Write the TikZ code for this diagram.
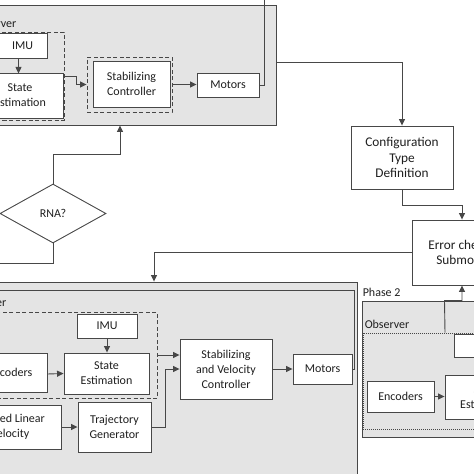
\documentclass[tikz,border=0pt]{standalone}
\usepackage{fontspec}
\setmainfont{Carlito}
\usetikzlibrary{arrows.meta,shapes.geometric}
\definecolor{lc}{HTML}{474747}
\definecolor{bg}{HTML}{E4E4E4}
\definecolor{tx}{HTML}{1F1F1F}
\tikzset{
 cont/.style={draw=lc, line width=0.9pt, fill=bg, inner sep=0pt},
 blk/.style={draw=lc, line width=0.9pt, fill=white, text=tx, align=center, inner sep=0pt, font=\fontsize{12}{15}\selectfont},
 bigtxt/.style={font=\fontsize{13.3}{15.8}\selectfont},
 dbox/.style={draw=lc, line width=0.9pt, dash pattern=on 4pt off 2.5pt, inner sep=0pt},
 dotbox/.style={draw=lc, line width=0.9pt, dash pattern=on 1pt off 1pt, inner sep=0pt},
 lbl/.style={text=tx, inner sep=0pt, font=\fontsize{12}{15}\selectfont},
 arr/.style={draw=lc, line width=0.9pt, -{Triangle[length=6.5pt,width=6pt]}},
 wire/.style={draw=lc, line width=0.9pt},
}
\begin{document}
\begin{tikzpicture}[x=1pt,y=-1pt]
\useasboundingbox (0,0) rectangle (474,474);
\clip (0,0) rectangle (474,474);
% ---- top container
\node[cont, minimum width=306pt, minimum height=120pt] (p1) at (123,65) {};
\node[dbox, minimum width=94pt, minimum height=88pt] (obs1) at (17,76) {};
\node[lbl, anchor=base west] (obs1l) at ([xshift=2pt,yshift=4.5pt]obs1.north west) {Observer};
\node[blk, minimum width=49pt, minimum height=25pt] (imu1) at (22.5,45.5) {IMU};
\node[blk, minimum width=86pt, minimum height=45pt] (st1) at (20,95.5) {State\\Estimation};
\node[dbox, minimum width=85pt, minimum height=55pt] (stabd) at (129.5,84.5) {};
\node[blk, minimum width=77pt, minimum height=46pt] (stab) at (131.5,84) {Stabilizing\\Controller};
\node[blk, minimum width=62pt, minimum height=24pt] (mot1) at (228,85) {Motors};
% ---- right column
\node[blk, bigtxt, minimum width=102pt, minimum height=63pt] (conf) at (402,157.5) {Configuration\\Type\\Definition};
\node[blk, bigtxt, minimum width=110pt, minimum height=65pt] (err) at (467,252.5) {Error checking\\Submodule};
\node[draw=lc, line width=0.9pt, diamond, aspect=1.8, minimum width=106pt, minimum height=59pt, inner sep=0pt, text=tx, font=\fontsize{12}{15}\selectfont] (rna) at (53,213.5) {RNA?};
% ---- bottom-left container
\node[cont, minimum width=387pt, minimum height=218pt] (p3) at (163.5,391) {};
\node[dbox, minimum width=199pt, minimum height=86pt] (obs2) at (57.5,355) {};
\node[lbl, anchor=base west] (obs2l) at ([xshift=4pt,yshift=5pt]obs2.north west) {Observer};
\node[blk, minimum width=60pt, minimum height=24pt] (imu2) at (107,326) {IMU};
\node[blk, minimum width=85pt, minimum height=41pt] (st2) at (106.5,373.5) {State\\Estimation};
\node[blk, minimum width=74pt, minimum height=39pt] (enc2) at (10,372.5) {Encoders};
\node[blk, minimum width=102pt, minimum height=44pt] (des) at (10,427) {Desired Linear\\Velocity};
\node[blk, minimum width=73pt, minimum height=50pt] (traj) at (114.5,427) {Trajectory\\Generator};
\node[blk, minimum width=92pt, minimum height=60pt] (svc) at (226,369) {Stabilizing\\and Velocity\\Controller};
\node[blk, minimum width=59pt, minimum height=30pt] (mot2) at (322.5,369) {Motors};
% ---- phase 2
\node[cont, minimum width=158pt, minimum height=136pt] (p2) at (441,369) {};
\node[lbl, anchor=base west] (p2l) at ([xshift=1pt,yshift=4pt]p2.north west) {Phase 2};
\node[dotbox, minimum width=157pt, minimum height=96pt] (obs3) at (441.5,381) {};
\node[lbl, anchor=base west] (obs3l) at ([xshift=2pt,yshift=4pt]obs3.north west) {Observer};
\node[blk, minimum width=66pt, minimum height=23pt] (imu3) at (487,345.5) {};
\node[blk, minimum width=67pt, minimum height=31pt] (enc3) at (400.5,396.5) {Encoders};
\node[blk, minimum width=82pt, minimum height=44pt] (st3) at (486,397) {State\\Estimation};
% ---- connectors
\coordinate (up1) at (264,-5);
\coordinate (rnaout) at (-5,263);
\coordinate (lft2) at (-5,290);
\draw[arr] (imu1.south -| st1.north) ++(-1.5,0) -- ++(0,15);
\draw[arr] (obs1.east) -- ++(12,0) |- (stabd.west);
\draw[arr] (stabd.east) -- (stabd.east -| mot1.west);
\draw[wire] (mot1.east) -| (up1);
\draw[arr] ([yshift=3pt]p1.east) -| (conf.north);
\draw[arr] (conf.south) -- ++(0,16) -| ([xshift=-5pt]err.north);
\draw[arr] (err.west) -| ([xshift=-9.5pt]p3.north);
\draw[arr] (rna.north) -- ++(0,-29) -| ([xshift=-3pt]p1.south);
\draw[wire] (rna.south) |- (rnaout);
\draw[arr] (imu2.south) -- (imu2.south |- st2.north);
\draw[arr] (enc2.east) ++(0,1.5) -- (st2.west);
\draw[arr] (obs2.east) -- (obs2.east -| svc.west);
\draw[arr] (des.east) -- (traj.west);
\draw[arr] (traj.east) -- ++(14,0) |- (svc.west);
\draw[arr] (svc.east) -- (mot2.west);
\draw[wire] (mot2.east) -- ++(1.5,0) |- (lft2);
\draw[arr] (enc3.east) -- (enc3.east -| st3.west);
\draw[arr] ([xshift=3.5pt]obs3.north) -- ([xshift=3.5pt]p2.north) -| ([xshift=-5pt]err.south);
\end{tikzpicture}
\end{document}
